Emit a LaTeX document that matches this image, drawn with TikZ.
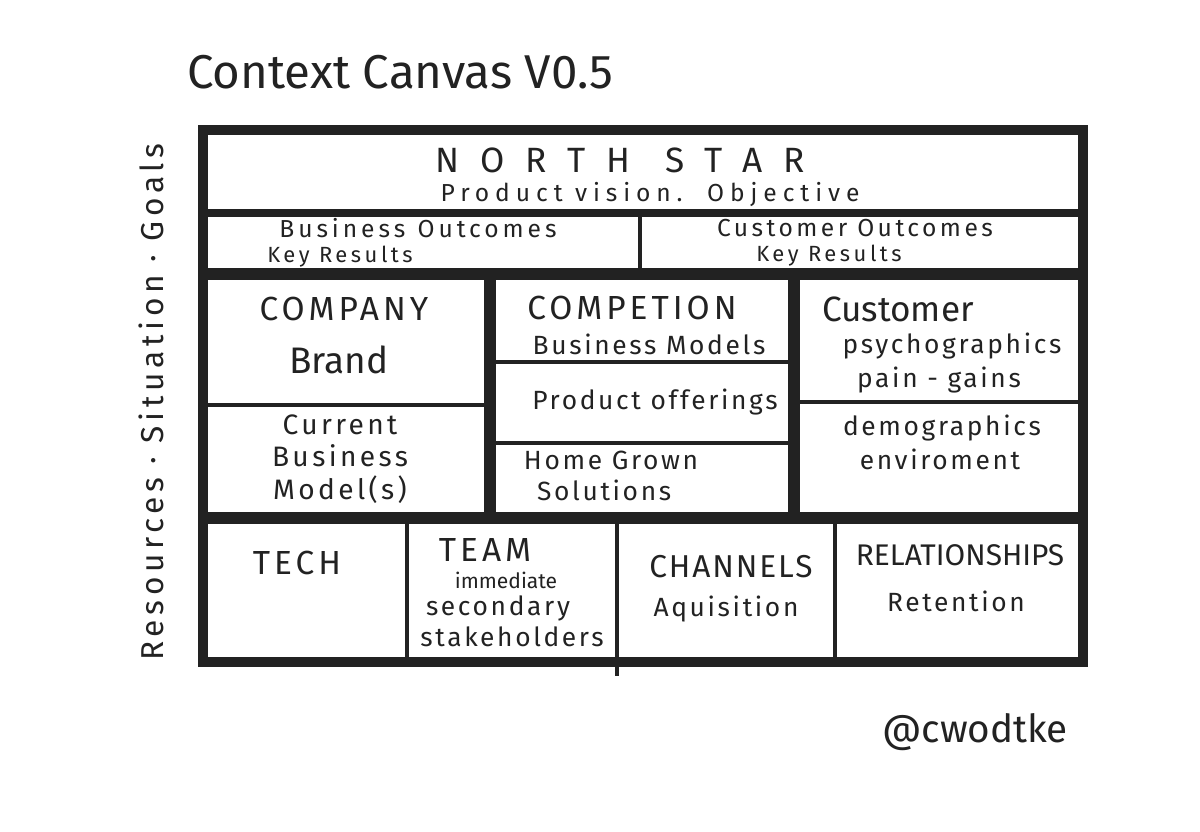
\documentclass[tikz,border=0pt]{standalone}
\usepackage{fontspec}
\setmainfont{Fira Sans}
\usetikzlibrary{positioning}

\definecolor{ink}{HTML}{222222}

\begin{document}
\begin{tikzpicture}[x=0.2mm,y=-0.2mm,
  frame/.style={draw=ink,line width=5.5pt},
  band/.style={draw=ink,line width=6.5pt},
  rule/.style={draw=ink,line width=2.2pt},
  head/.style={font=\fontsize{19}{22}\selectfont\addfontfeature{LetterSpace=12},text=ink,inner sep=0pt},
  note/.style={font=\fontsize{15}{18}\selectfont\addfontfeature{LetterSpace=10},text=ink,inner sep=0pt}]
\useasboundingbox (0,0) rectangle (1200,831);

% title and side label
\node[font=\fontsize{27}{30}\selectfont,text=ink] (title) at (400,72) {Context Canvas V0.5};
\node[note,font=\fontsize{18}{20}\selectfont\addfontfeature{LetterSpace=15},rotate=90] (side) at (151,402) {Resources · Situation · Goals};

% grid
\draw[rule,line width=4pt] (203,213) -- (1083,213);
\draw[band] (203,274) -- (1083,274);
\draw[band] (203,518) -- (1083,518);
\draw[rule] (640,213) -- (640,272);
\draw[rule] (203,405) -- (490,405);
\draw[band] (490,274) -- (490,518) (794,274) -- (794,518);
\draw[rule] (490,362) -- (794,362);
\draw[rule] (490,443) -- (794,443);
\draw[rule] (794,402) -- (1083,402);
\draw[rule] (407,518) -- (407,658);
\draw[rule] (617,518) -- (617,676);
\draw[rule] (835,518) -- (835,662);
\draw[frame] (203,130) rectangle (1083,662);

% north star
\node[head,font=\fontsize{20}{24}\selectfont\addfontfeature{LetterSpace=60}] (star) at (620,160) {NORTH\quad STAR};
\node[note,font=\fontsize{14}{16}\selectfont\addfontfeature{LetterSpace=24}] (vision) at (650,195) {Product vision.\quad Objective};

% outcomes
\node[note,font=\fontsize{14}{17}\selectfont\addfontfeature{LetterSpace=16}] (bizout) at (418,228) {Business\enspace Outcomes};
\node[note,font=\fontsize{12.5}{15}\selectfont\addfontfeature{LetterSpace=16}] (bizkr) at (340,257) {Key Results};
\node[note,font=\fontsize{14}{17}\selectfont\addfontfeature{LetterSpace=14}] (custout) at (855,228) {Customer Outcomes};
\node[note,font=\fontsize{12.5}{15}\selectfont\addfontfeature{LetterSpace=16}] (custkr) at (829,256) {Key Results};

% company
\node[head] (company) at (344,309) {COMPANY};
\node[head,font=\fontsize{21}{24}\selectfont] (brand) at (339,360) {Brand};
\node[note,font=\fontsize{16}{18.5}\selectfont\addfontfeature{LetterSpace=12},align=center] (model) at (340,459) {Current\\Business\\Model(s)};

% competition
\node[head] (compet) at (632,308) {COMPETION};
\node[note] (bizmod) at (649,344) {Business Models};
\node[note] (offer) at (655,402) {Product offerings};
\node[note,align=left] (homegrown) at (611,476) {Home Grown\\\enspace Solutions};

% customer
\node[head,font=\fontsize{20}{24}\selectfont] (customer) at (898,309) {Customer};
\node[note] (psycho) at (952,346) {psychographics};
\node[note] (pain) at (939,380) {pain - gains};
\node[note] (demo) at (942,428) {demographics};
\node[note] (env) at (940,459) {enviroment};

% bottom row
\node[head] (tech) at (297,563) {TECH};
\node[head] (team) at (485,550) {TEAM};
\node[note,font=\fontsize{12}{14}\selectfont] (immediate) at (506,580) {immediate};
\node[note] (secondary) at (498,608) {secondary};
\node[note] (stake) at (512,637) {stakeholders};
\node[head,font=\fontsize{18}{22}\selectfont\addfontfeature{LetterSpace=6}] (channels) at (731,567) {CHANNELS};
\node[note] (aquis) at (726,609) {Aquisition};
\node[head,font=\fontsize{17}{20}\selectfont] (relation) at (960,555) {RELATIONSHIPS};
\node[note] (retention) at (956,601) {Retention};

% signature
\node[font=\fontsize{22}{26}\selectfont,text=ink] (sig) at (975,732) {@cwodtke};
\end{tikzpicture}
\end{document}
